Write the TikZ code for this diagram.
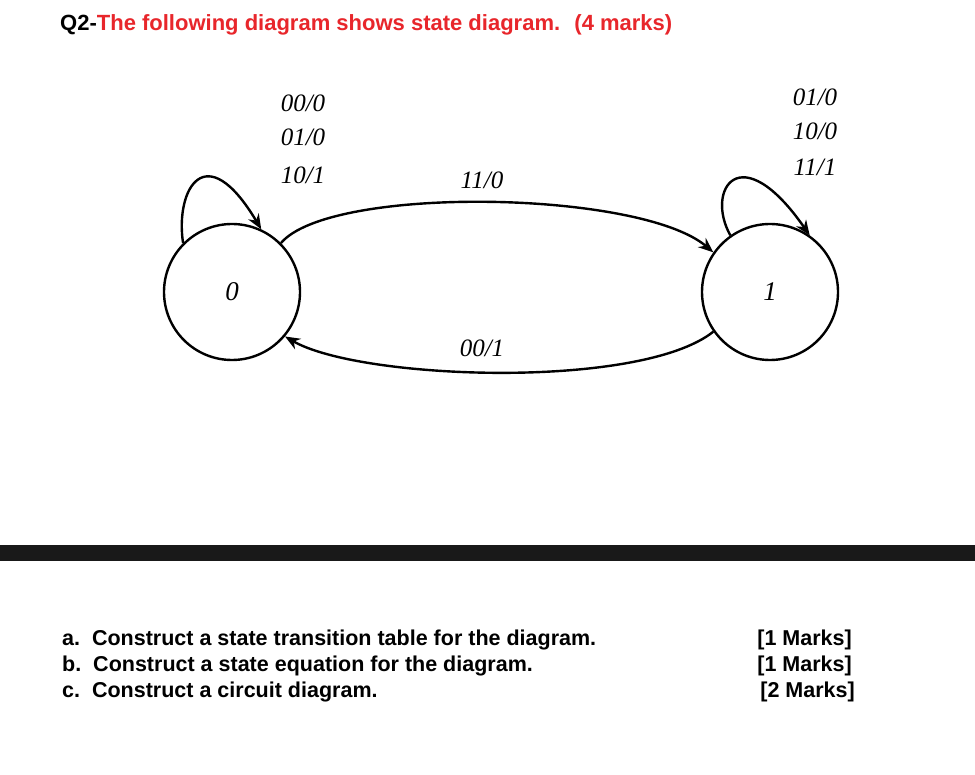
\documentclass[tikz,border=0pt]{standalone}
\usepackage{fontspec}
\setmainfont{Liberation Serif}
\setsansfont{Liberation Sans}
\usetikzlibrary{arrows.meta}
\definecolor{qred}{HTML}{E8262B}
\begin{document}
\begin{tikzpicture}[x=1pt,y=-1pt,
  lbl/.style={font=\fontsize{25}{27}\selectfont\itshape, inner sep=0},
  st/.style={draw, line width=2.4pt, circle, minimum size=136pt, inner sep=0, font=\fontsize{27}{29}\selectfont\itshape},
  tr/.style={line width=2.4pt, -{Stealth[length=15pt,width=12pt]}},
  qtxt/.style={font=\fontsize{21.5}{23}\selectfont\sffamily\bfseries, anchor=west, inner sep=0}]
\useasboundingbox (0,0) rectangle (975,775);
\fill[white] (0,0) rectangle (975,775);
\node[anchor=west, inner sep=0, font=\fontsize{22}{24}\selectfont\sffamily\bfseries] (title) at (60,25) {Q2-\textcolor{qred}{The following diagram shows state diagram. \ (4 marks)}};
\node[st] (s0) at (232,292) {0};
\node[st] (s1) at (770,292) {1};
\node[lbl] (a1) at (303,103) {00/0};
\node[lbl] (a2) at (303,137) {01/0};
\node[lbl] (a3) at (303,175) {10/1};
\node[lbl] (t1) at (482,180) {11/0};
\node[lbl] (t2) at (482,348) {00/1};
\node[lbl] (b1) at (815,97) {01/0};
\node[lbl] (b2) at (815,131) {10/0};
\node[lbl] (b3) at (815,167) {11/1};
\draw[tr] (s0.135) .. controls (175,190) and (205,135) .. (s0.65);
\draw[tr] (s1.125) .. controls (705,190) and (740,135) .. (s1.55);
\draw[tr] (s0.45) .. controls (330,185) and (640,190) .. (s1.145);
\draw[tr] (s1.215) .. controls (640,390) and (360,380) .. (s0.320);
\fill[black!90] (0,545) rectangle (975,561);
\node[qtxt] (qa) at (62,640) {a.\ \ Construct a state transition table for the diagram.};
\node[qtxt] (qb) at (62,666) {b.\ \ Construct a state equation for the diagram.};
\node[qtxt] (qc) at (62,692) {c.\ \ Construct a circuit diagram.};
\node[qtxt,anchor=east] (ma) at (852,640) {[1 Marks]};
\node[qtxt,anchor=east] (mb) at (852,666) {[1 Marks]};
\node[qtxt,anchor=east] (mc) at (855,692) {[2 Marks]};
\end{tikzpicture}
\end{document}
